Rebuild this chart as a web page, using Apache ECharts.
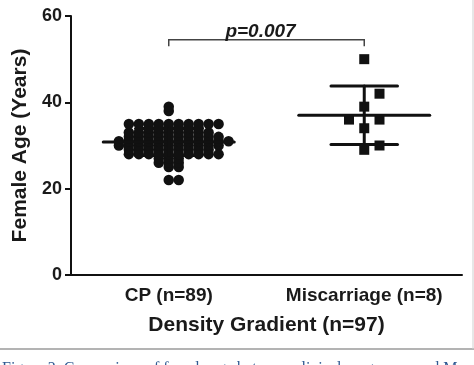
<!DOCTYPE html>
<html>
<head>
<meta charset="utf-8">
<script src="https://cdn.jsdelivr.net/npm/echarts@6/dist/echarts.min.js"></script>
<style>
html, body { margin: 0; padding: 0; background: #fff; }
#main { width: 474px; height: 365px; }
</style>
</head>
<body>
<div id="main"></div>
<script>
var categories = ['CP (n=89)', 'Miscarriage (n=8)'];
var yTicks = [0, 20, 40, 60];

// female ages
var cpAges = [
    22, 22,
    25, 25,
    26, 26, 26,
    27, 27, 27,
    28, 28, 28, 28, 28, 28, 28, 28, 28, 28,
    29, 29, 29, 29, 29, 29, 29, 29, 29,
    30, 30, 30, 30, 30, 30, 30, 30, 30, 30, 30,
    31, 31, 31, 31, 31, 31, 31, 31, 31, 31, 31, 31,
    32, 32, 32, 32, 32, 32, 32, 32, 32, 32,
    33, 33, 33, 33, 33, 33, 33, 33, 33,
    34, 34, 34, 34, 34, 34,
    35, 35, 35, 35, 35, 35, 35, 35, 35, 35,
    38,
    39
];
var miscAges = [50, 42, 39, 36, 36, 34, 30, 29];
var pText = 'p=0.007';
var bracketLevel = [54.5, 53];

var font = '"Liberation Sans", Arial, sans-serif';

function mean(a) {
    var s = 0;
    a.forEach(function (v) { s += v; });
    return s / a.length;
}
function sd(a) {
    var m = mean(a), s = 0;
    a.forEach(function (v) { s += (v - m) * (v - m); });
    return Math.sqrt(s / (a.length - 1));
}

// column scatter: go up through the values, put each point in the first
// column (0, +1, -1, +2, ...) that has no point closer than `gap` years
function swarm(ages, idx, step, gap) {
    var sorted = ages.slice().sort(function (a, b) { return a - b; });
    var placed = [];
    return sorted.map(function (a) {
        for (var k = 0; ; k++) {
            var col = k === 0 ? 0 : (k % 2 ? (k + 1) / 2 : -k / 2);
            var hit = placed.some(function (p) {
                return p[0] === col && Math.abs(p[1] - a) < gap;
            });
            if (!hit) {
                placed.push([col, a]);
                return [idx + col * step, a];
            }
        }
    });
}

var stats = [
    [0, mean(cpAges), sd(cpAges)],
    [1, mean(miscAges), sd(miscAges)]
];

var chart = echarts.init(document.getElementById('main'));

var option = {
    animation: false,
    backgroundColor: '#fff',
    grid: { left: 71, right: 12, top: 16, bottom: 90 },
    xAxis: [
        {
            type: 'category',
            data: categories,
            axisLine: { lineStyle: { color: '#111', width: 2 } },
            axisTick: { alignWithLabel: true, interval: 0, length: 7, lineStyle: { color: '#111', width: 2 } },
            axisLabel: { interval: 0, margin: 11, fontSize: 19, fontWeight: 'bold', color: '#1a1a1a', fontFamily: font },
            name: 'Density Gradient (n=97)',
            nameLocation: 'middle',
            nameGap: 40,
            nameTextStyle: { fontSize: 21, fontWeight: 'bold', color: '#1a1a1a', fontFamily: font }
        },
        { type: 'value', min: -0.5, max: 1.5, show: false }
    ],
    yAxis: {
        type: 'value',
        min: 0,
        max: 60,
        interval: 20,
        splitLine: { show: false },
        axisLine: { show: true, onZero: false, lineStyle: { color: '#111', width: 2 } },
        axisTick: { show: true, length: 6, lineStyle: { color: '#111', width: 2 } },
        axisLabel: { margin: 9, fontSize: 18, fontWeight: 'bold', color: '#1a1a1a', fontFamily: font },
        name: 'Female Age (Years)',
        nameLocation: 'middle',
        nameGap: 33,
        nameTextStyle: { fontSize: 21, fontWeight: 'bold', color: '#1a1a1a', fontFamily: font }
    },
    series: [
        {
            type: 'scatter',
            xAxisIndex: 1,
            symbol: 'circle',
            symbolSize: 10.5,
            itemStyle: { color: '#111', opacity: 1 },
            data: swarm(cpAges, 0, 0.051, 0.5)
        },
        {
            type: 'scatter',
            xAxisIndex: 1,
            symbol: 'rect',
            symbolSize: 10,
            itemStyle: { color: '#111', opacity: 1 },
            data: swarm(miscAges, 1, 0.078, 3.2)
        },
        {
            type: 'custom',
            xAxisIndex: 0,
            data: stats,
            z: 5,
            renderItem: function (params, api) {
                var c = api.coord([api.value(0), api.value(1)]);
                var hi = api.coord([api.value(0), api.value(1) + api.value(2)]);
                var lo = api.coord([api.value(0), api.value(1) - api.value(2)]);
                var band = api.size([1, 0])[0];
                var wm = band * 0.335, ws = band * 0.17;
                var st = { stroke: '#111', lineWidth: 3, lineCap: 'round' };
                return {
                    type: 'group',
                    children: [
                        { type: 'line', shape: { x1: c[0] - wm, y1: c[1], x2: c[0] + wm, y2: c[1] }, style: st },
                        { type: 'line', shape: { x1: c[0] - ws, y1: hi[1], x2: c[0] + ws, y2: hi[1] }, style: st },
                        { type: 'line', shape: { x1: c[0] - ws, y1: lo[1], x2: c[0] + ws, y2: lo[1] }, style: st },
                        { type: 'line', shape: { x1: c[0], y1: hi[1], x2: c[0], y2: lo[1] }, style: st }
                    ]
                };
            }
        },
        {
            type: 'custom',
            xAxisIndex: 0,
            data: [[0, 1]],
            renderItem: function (params, api) {
                var a = api.coord([0, bracketLevel[0]]);
                var b = api.coord([1, bracketLevel[0]]);
                var t = api.coord([0, bracketLevel[1]]);
                return {
                    type: 'group',
                    children: [
                        {
                            type: 'polyline',
                            shape: { points: [[a[0], t[1]], [a[0], a[1]], [b[0], b[1]], [b[0], t[1]]] },
                            style: { stroke: '#444', lineWidth: 1.5, fill: null }
                        },
                        {
                            type: 'text',
                            x: (a[0] + b[0]) / 2 - 6,
                            y: a[1] + 2,
                            style: {
                                text: pText,
                                fill: '#1a1a1a',
                                font: 'italic bold 19px ' + font,
                                align: 'center',
                                verticalAlign: 'bottom'
                            }
                        }
                    ]
                };
            }
        }
    ],
    graphic: [
        { type: 'line', shape: { x1: 0, y1: 349, x2: 474, y2: 349 }, style: { stroke: '#9a9a9a', lineWidth: 1.5 } },
        { type: 'line', shape: { x1: 473, y1: 0, x2: 473, y2: 349 }, style: { stroke: '#cfcfcf', lineWidth: 1 } },
        {
            type: 'text', left: 2, top: 361,
            style: {
                text: 'Figure 2. Comparison of female age between clinical pregnancy and M',
                fill: '#2f5a93',
                font: '16px "Liberation Serif", serif'
            }
        }
    ]
};

chart.setOption(option);
</script>
</body>
</html>
